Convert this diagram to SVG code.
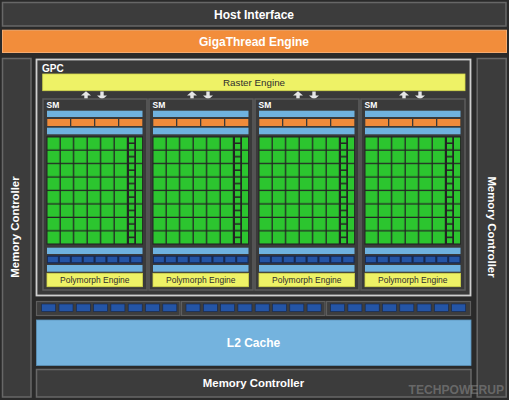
<svg xmlns="http://www.w3.org/2000/svg" xmlns:xlink="http://www.w3.org/1999/xlink" width="509" height="400" viewBox="0 0 509 400">
<style>
.box{fill:#3c3c3c;stroke:#676767;stroke-width:1.5}
.lbl{font-family:"Liberation Sans",Arial,sans-serif;font-weight:bold;fill:#ffffff}
.dark{font-family:"Liberation Sans",Arial,sans-serif;fill:#2e2e2e}
.lb{fill:#6fb2df}
.or{fill:#f08b3a}
.ye{fill:#eef266;stroke:#d2d64a;stroke-width:0.8}
.sm{fill:#3a3a3a;stroke:#5c5c5c;stroke-width:1.5}
.seg{fill:#2455a6;stroke:#15264a;stroke-width:0.6}
.arr{fill:#e6e6e6}
</style>
<defs>
<pattern id="pBig" patternUnits="userSpaceOnUse" x="4.3" y="137.3" width="13.5" height="13.45"><rect x="0" y="0" width="12.2" height="12.2" fill="#2cc52f"/></pattern>
<pattern id="pSmall" patternUnits="userSpaceOnUse" x="86" y="137.3" width="10" height="6.725"><rect x="0" y="0" width="5.5" height="5.2" fill="#2cc52f"/></pattern>
<pattern id="pRight" patternUnits="userSpaceOnUse" x="93" y="137.3" width="10" height="13.45"><rect x="0" y="0" width="6.3" height="12.2" fill="#2cc52f"/></pattern>
<g id="smBody">
<rect class="lb" x="4" y="110.7" width="95.5" height="6.3"/>
<rect class="or" x="4.3" y="119" width="22.7" height="7"/>
<rect class="or" x="28.3" y="119" width="22.7" height="7"/>
<rect class="or" x="52.3" y="119" width="22.7" height="7"/>
<rect class="or" x="76.3" y="119" width="23" height="7"/>
<rect class="lb" x="4" y="127.7" width="95.5" height="6.6"/>
<rect x="3.5" y="136.3" width="96.5" height="108.3" fill="#232323"/>
<rect x="4.3" y="137.3" width="79.7" height="106.4" fill="url(#pBig)"/>
<rect x="86" y="137.3" width="5.5" height="106.2" fill="url(#pSmall)"/>
<rect x="93" y="137.3" width="6.3" height="106.4" fill="url(#pRight)"/>
<rect class="lb" x="4" y="247.7" width="95.5" height="6.3"/>
<rect x="4" y="255.5" width="95.5" height="8" fill="#1b2c52"/>
<rect class="seg" x="4.6" y="256.3" width="10.6" height="6.4"/>
<rect class="seg" x="16.5" y="256.3" width="10.6" height="6.4"/>
<rect class="seg" x="28.4" y="256.3" width="10.6" height="6.4"/>
<rect class="seg" x="40.3" y="256.3" width="10.6" height="6.4"/>
<rect class="seg" x="52.2" y="256.3" width="10.6" height="6.4"/>
<rect class="seg" x="64.1" y="256.3" width="10.6" height="6.4"/>
<rect class="seg" x="76" y="256.3" width="10.6" height="6.4"/>
<rect class="seg" x="87.9" y="256.3" width="11" height="6.4"/>
<rect class="lb" x="4" y="265" width="95.5" height="6.7"/>
<rect class="ye" x="4" y="273.3" width="95.5" height="13.4"/>
</g>
<g id="arrows">
<path class="arr" d="M43 91.2 L48 95.5 L44.7 95.5 L44.7 99.5 L41.3 99.5 L41.3 95.5 L38 95.5 Z"/>
<path class="arr" d="M59 99.8 L54 95.5 L57.3 95.5 L57.3 91.5 L60.7 91.5 L60.7 95.5 L64 95.5 Z"/>
</g>
</defs>
<rect x="0" y="0" width="509" height="400" fill="#2a2a2a"/>

<g id="host-interface">
<rect class="box" x="2.5" y="2.5" width="503.5" height="23.5"/>
<text class="lbl" x="254" y="18.5" font-size="12" text-anchor="middle">Host Interface</text>
</g>

<g id="gigathread-engine">
<rect x="2.5" y="30.2" width="504" height="22.3" fill="#f28d3b" stroke="#f5ab70" stroke-width="1"/>
<text class="lbl" x="254" y="45.5" font-size="12" text-anchor="middle">GigaThread Engine</text>
</g>

<g id="memory-controller-left">
<rect class="box" x="2.5" y="58.5" width="28.5" height="338.5"/>
<text class="lbl" transform="translate(19.2,227) rotate(-90)" font-size="11.4" text-anchor="middle">Memory Controller</text>
</g>

<g id="memory-controller-right">
<rect class="box" x="477.2" y="58.5" width="29" height="338.5"/>
<text class="lbl" transform="translate(488.3,227) rotate(90)" font-size="11.4" text-anchor="middle">Memory Controller</text>
</g>

<g id="gpc">
<rect x="36.5" y="59.5" width="434" height="236" fill="#393939" stroke="#cfcfcf" stroke-width="1.8"/>
<text class="lbl" x="42" y="71.8" font-size="10">GPC</text>
</g>

<g id="raster-engine">
<rect class="ye" x="42.7" y="74" width="422.3" height="16.7"/>
<text class="dark" x="254" y="86" font-size="9.8" text-anchor="middle">Raster Engine</text>
</g>

<g id="connectors">
<use href="#arrows" x="43"/>
<use href="#arrows" x="149"/>
<use href="#arrows" x="255"/>
<use href="#arrows" x="361"/>
</g>

<g id="sm-1">
<rect class="sm" x="43" y="99" width="104" height="191"/>
<use href="#smBody" x="43"/>
<text class="lbl" x="46.5" y="108.3" font-size="8.5">SM</text>
<text class="dark" x="94.8" y="283.2" font-size="8.5" text-anchor="middle">Polymorph Engine</text>
</g>

<g id="sm-2">
<rect class="sm" x="149" y="99" width="104" height="191"/>
<use href="#smBody" x="149"/>
<text class="lbl" x="152.5" y="108.3" font-size="8.5">SM</text>
<text class="dark" x="200.8" y="283.2" font-size="8.5" text-anchor="middle">Polymorph Engine</text>
</g>

<g id="sm-3">
<rect class="sm" x="255" y="99" width="104" height="191"/>
<use href="#smBody" x="255"/>
<text class="lbl" x="258.5" y="108.3" font-size="8.5">SM</text>
<text class="dark" x="306.8" y="283.2" font-size="8.5" text-anchor="middle">Polymorph Engine</text>
</g>

<g id="sm-4">
<rect class="sm" x="361" y="99" width="104" height="191"/>
<use href="#smBody" x="361"/>
<text class="lbl" x="364.5" y="108.3" font-size="8.5">SM</text>
<text class="dark" x="412.8" y="283.2" font-size="8.5" text-anchor="middle">Polymorph Engine</text>
</g>

<g id="interconnect">
<rect x="36.5" y="301.5" width="143.5" height="14" fill="#3e3e3e" stroke="#5e5e5e" stroke-width="1.2"/>
<rect x="181.5" y="301.5" width="143.5" height="14" fill="#3e3e3e" stroke="#5e5e5e" stroke-width="1.2"/>
<rect x="326.5" y="301.5" width="144" height="14" fill="#3e3e3e" stroke="#5e5e5e" stroke-width="1.2"/>
<g class="seg">
<rect x="41.7" y="304" width="14" height="7.5"/><rect x="59" y="304" width="14" height="7.5"/><rect x="76.3" y="304" width="14" height="7.5"/><rect x="93.6" y="304" width="14" height="7.5"/><rect x="110.9" y="304" width="14" height="7.5"/><rect x="128.2" y="304" width="14" height="7.5"/><rect x="145.5" y="304" width="14" height="7.5"/><rect x="162.8" y="304" width="14" height="7.5"/>
<rect x="186" y="304" width="14" height="7.5"/><rect x="203.3" y="304" width="14" height="7.5"/><rect x="220.6" y="304" width="14" height="7.5"/><rect x="237.9" y="304" width="14" height="7.5"/><rect x="255.2" y="304" width="14" height="7.5"/><rect x="272.5" y="304" width="14" height="7.5"/><rect x="289.8" y="304" width="14" height="7.5"/><rect x="307.1" y="304" width="14" height="7.5"/>
<rect x="330.6" y="304" width="14" height="7.5"/><rect x="347.9" y="304" width="14" height="7.5"/><rect x="365.2" y="304" width="14" height="7.5"/><rect x="382.5" y="304" width="14" height="7.5"/><rect x="399.8" y="304" width="14" height="7.5"/><rect x="417.1" y="304" width="14" height="7.5"/><rect x="434.4" y="304" width="14" height="7.5"/><rect x="451.7" y="304" width="14" height="7.5"/>
</g>
</g>

<g id="l2-cache">
<rect x="36.5" y="320" width="434.5" height="45.5" fill="#74b3de" stroke="#5d93bb" stroke-width="0.8"/>
<text class="lbl" x="253.5" y="346.7" font-size="12" text-anchor="middle">L2 Cache</text>
</g>

<g id="memory-controller-bottom">
<rect class="box" x="36.5" y="369.5" width="434.5" height="27.5"/>
<text class="lbl" x="253.5" y="387" font-size="11.4" text-anchor="middle">Memory Controller</text>
</g>

<text x="408.5" y="394" font-family="'Liberation Sans',Arial,sans-serif" font-weight="bold" font-size="13.5" fill="#a0a0a0" fill-opacity="0.45" textLength="95.5" lengthAdjust="spacingAndGlyphs">TECHPOWERUP</text>
</svg>
